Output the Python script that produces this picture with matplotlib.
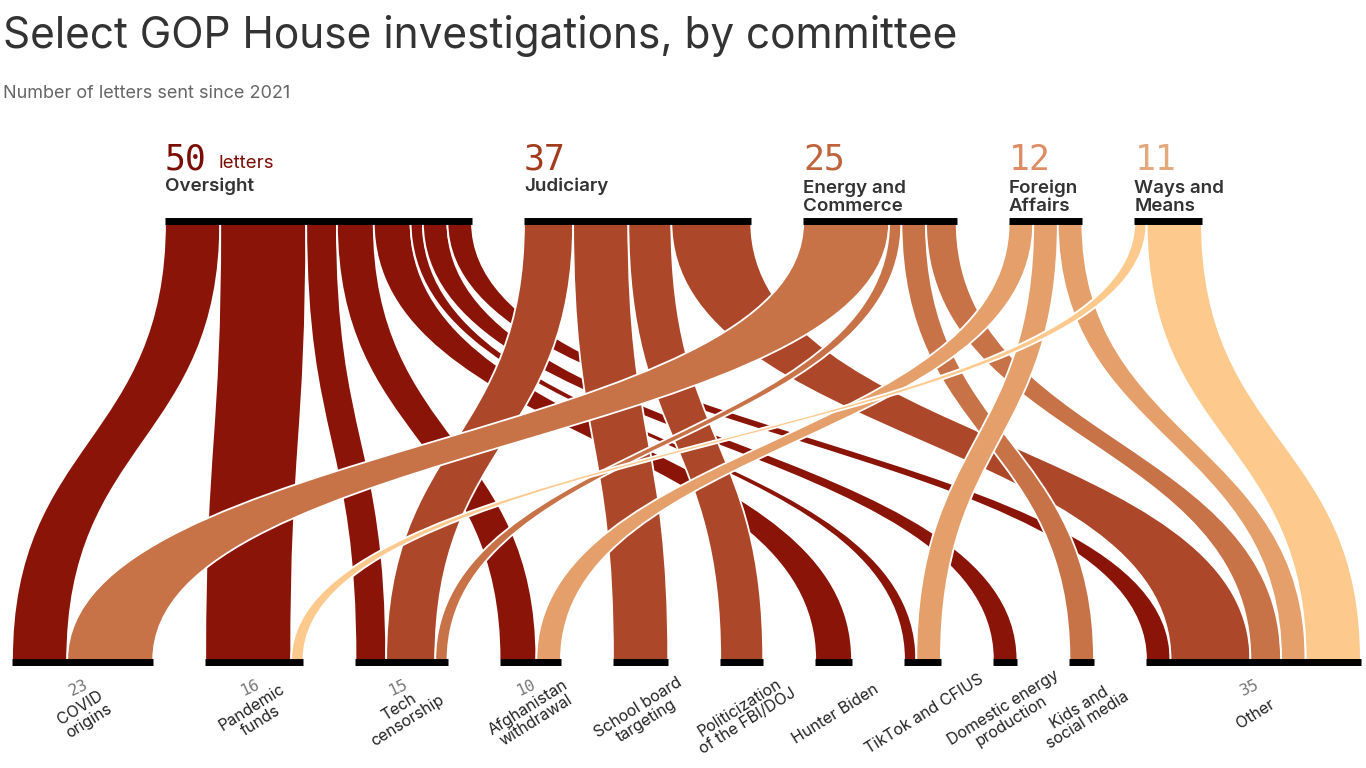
import matplotlib
matplotlib.use("Agg")
import matplotlib.pyplot as plt
from matplotlib.path import Path
from matplotlib.patches import PathPatch

plt.rcParams["font.family"] = ["Inter", "DejaVu Sans"]

# ---------- data ----------
committees = ["Oversight", "Judiciary", "Energy and\nCommerce", "Foreign\nAffairs", "Ways and\nMeans"]
committee_totals = [50, 37, 25, 12, 11]
committee_colors = ["#8b1409", "#ad4729", "#c87248", "#e49f6a", "#fdc98d"]
number_colors = ["#7a0d05", "#a33a1c", "#c0623a", "#dd8c63", "#e3a87c"]

topics = ["COVID\norigins", "Pandemic\nfunds", "Tech\ncensorship", "Afghanistan\nwithdrawal",
          "School board\ntargeting", "Politicization\nof the FBI/DOJ", "Hunter Biden",
          "TikTok and CFIUS", "Domestic energy\nproduction", "Kids and\nsocial media", "Other"]
topic_totals = [23, 16, 15, 10, 9, 7, 6, 6, 4, 4, 35]
topic_show_number = [True, True, True, True, False, False, False, False, False, False, True]

# flows: (committee index, topic index, letters)
flow_src = [0, 0, 0, 0, 0, 0, 0, 0,  1, 1, 1, 1,  2, 2, 2, 2,  3, 3, 3,  4, 4]
flow_dst = [0, 1, 2, 3, 6, 7, 8, 10, 2, 4, 5, 10, 0, 2, 9, 10, 3, 7, 10, 1, 10]
flow_val = [9, 14, 5, 6, 6, 2, 4, 4,  8, 9, 7, 13, 14, 2, 4, 5, 4, 4, 4,  2, 9]

# ---------- layout ----------
SCALE = 6.14
TOP_Y, BOT_Y = 222, 660
GAP = 52


def node_starts(totals, start):
    xs, x = [], start
    for t in totals:
        xs.append(x)
        x += t * SCALE + GAP
    return xs


top_x = node_starts(committee_totals, 165)
bot_x = node_starts(topic_totals, 12)

fig = plt.figure(figsize=(13.66, 7.68), dpi=100)
ax = fig.add_axes([0, 0, 1, 1])
ax.set_xlim(0, 1366)
ax.set_ylim(768, 0)
ax.axis("off")

idx = list(range(len(flow_val)))
top_order = sorted(idx, key=lambda i: (flow_src[i], flow_dst[i]))
bot_order = sorted(idx, key=lambda i: (flow_dst[i], flow_src[i]))

top_pos = {}
cursor = list(top_x)
for i in top_order:
    top_pos[i] = cursor[flow_src[i]]
    cursor[flow_src[i]] += flow_val[i] * SCALE
bot_pos = {}
cursor = list(bot_x)
for i in bot_order:
    bot_pos[i] = cursor[flow_dst[i]]
    cursor[flow_dst[i]] += flow_val[i] * SCALE

ym = (TOP_Y + BOT_Y) / 2
for i in idx:
    w = flow_val[i] * SCALE
    a, b = top_pos[i], bot_pos[i]
    verts = [(a, TOP_Y), (a, ym), (b, ym), (b, BOT_Y),
             (b + w, BOT_Y), (b + w, ym), (a + w, ym), (a + w, TOP_Y), (a, TOP_Y)]
    codes = [Path.MOVETO, Path.CURVE4, Path.CURVE4, Path.CURVE4,
             Path.LINETO, Path.CURVE4, Path.CURVE4, Path.CURVE4, Path.CLOSEPOLY]
    ax.add_patch(PathPatch(Path(verts, codes), facecolor=committee_colors[flow_src[i]],
                           edgecolor="white", linewidth=1.3, zorder=2))

# node bars
for x, t in zip(top_x, committee_totals):
    ax.plot([x, x + t * SCALE], [TOP_Y - 1, TOP_Y - 1], color="black", lw=5,
            solid_capstyle="butt", zorder=3)
for x, t in zip(bot_x, topic_totals):
    ax.plot([x, x + t * SCALE], [BOT_Y + 2, BOT_Y + 2], color="black", lw=5,
            solid_capstyle="butt", zorder=3)

# committee labels
for k, (name, tot) in enumerate(zip(committees, committee_totals)):
    x = top_x[k]
    nl = name.count("\n")
    ax.text(x, 170, str(tot), family="DejaVu Sans Mono", fontsize=25,
            color=number_colors[k], va="baseline", ha="left")
    if k == 0:
        ax.text(x + 53, 168, "letters", fontsize=13.5, color=number_colors[0], va="baseline")
    ax.text(x, 191 + 20 * nl, name, fontsize=13.5, fontweight="semibold", color="#333333",
            va="baseline", ha="left", linespacing=1.1)

# topic labels
for k, (name, tot) in enumerate(zip(topics, topic_totals)):
    cx = bot_x[k] + tot * SCALE / 2
    ax.text(cx + 2, 714, name, fontsize=11.5, color="#222222", rotation=32,
            ha="center", va="center", rotation_mode="anchor", multialignment="center",
            linespacing=1.05)
    if topic_show_number[k]:
        ax.text(cx - 4, 688, str(tot), family="DejaVu Sans Mono", fontsize=11.5,
                color="#777777", rotation=25, ha="center", va="center",
                rotation_mode="anchor")

ax.text(3, 48, "Select GOP House investigations, by committee", fontsize=30.5,
        color="#333333", va="baseline")
ax.text(3, 98, "Number of letters sent since 2021", fontsize=13, color="#666666",
        va="baseline")

fig.savefig("out.png", dpi=100)
